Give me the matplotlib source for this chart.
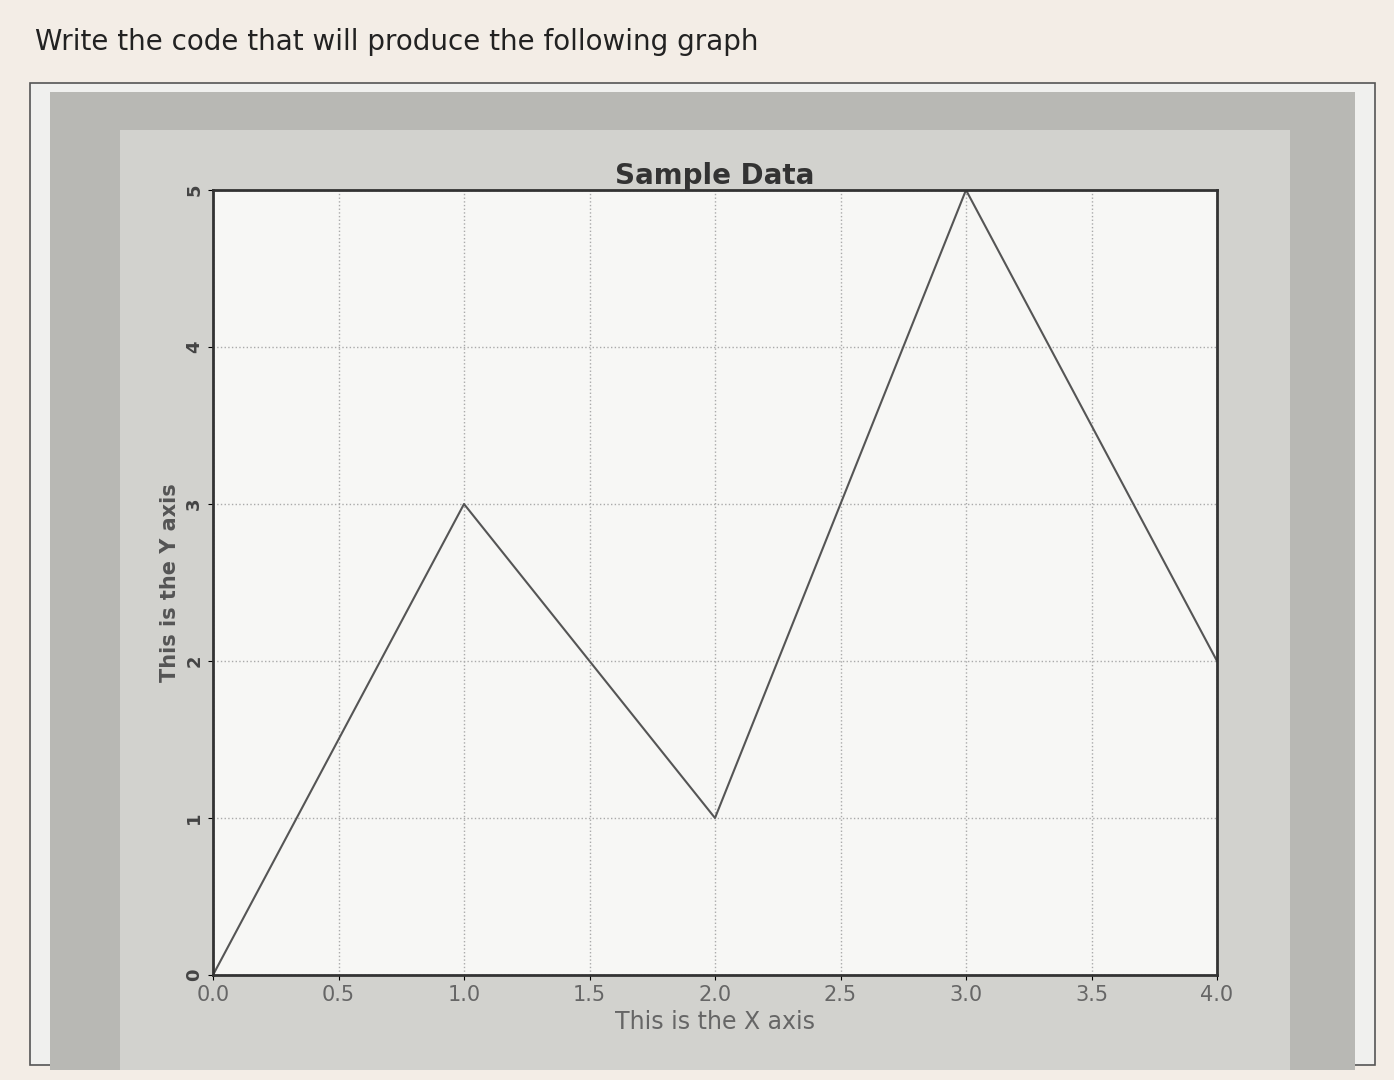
import matplotlib
matplotlib.use("Agg")
import matplotlib.pyplot as plt
from matplotlib.patches import Rectangle

x = [0, 1, 2, 3, 4]
y = [0, 3, 1, 5, 2]
xticks = [0.0, 0.5, 1.0, 1.5, 2.0, 2.5, 3.0, 3.5, 4.0]
yticks = [0, 1, 2, 3, 4, 5]

fig = plt.figure(figsize=(13.94, 10.8), dpi=100)
fig.patch.set_facecolor("#f3ede6")
W, H = 1394, 1080
def R(x0, y0, x1, y1, **kw):
    fig.patches.append(Rectangle((x0 / W, 1 - y1 / H), (x1 - x0) / W, (y1 - y0) / H,
                                 transform=fig.transFigure, zorder=-10, **kw))
R(30, 83, 1375, 1065, facecolor="#f0f0ee", edgecolor="#555555", lw=1.2)
R(50, 92, 1355, 1070, facecolor="#b8b8b4", edgecolor="none")
R(120, 130, 1290, 1070, facecolor="#d2d2ce", edgecolor="none")
fig.text(35 / W, 1 - 42 / H, "Write the code that will produce the following graph",
         fontsize=20, color="#222222", va="center", ha="left")

ax = fig.add_axes([213 / W, 1 - 975 / H, (1217 - 213) / W, (975 - 190) / H])
ax.set_zorder(5)
ax.set_facecolor("#f7f7f5")
ax.plot(x, y, color="#555555", lw=1.5)
ax.set_xlim(0, 4)
ax.set_ylim(0, 5)
ax.set_xticks(xticks)
ax.set_xticklabels([f"{t:.1f}" for t in xticks], color="#666666", fontsize=15)
ax.set_yticks(yticks)
ax.set_yticklabels([str(t) for t in yticks], rotation=90, color="#444444",
                   fontsize=13, fontweight="bold", va="center")
ax.grid(True, linestyle=":", color="#aaaaaa", lw=1)
for s in ax.spines.values():
    s.set_color("#333333"); s.set_linewidth(2)
ax.set_title("Sample Data", fontsize=20, fontweight="bold", color="#333333", pad=4)
ax.set_xlabel("This is the X axis", fontsize=17, color="#666666", labelpad=4)
ax.set_ylabel("This is the Y axis", fontsize=15, fontweight="bold", color="#555555")
fig.savefig("out.png", dpi=100, facecolor=fig.get_facecolor())
